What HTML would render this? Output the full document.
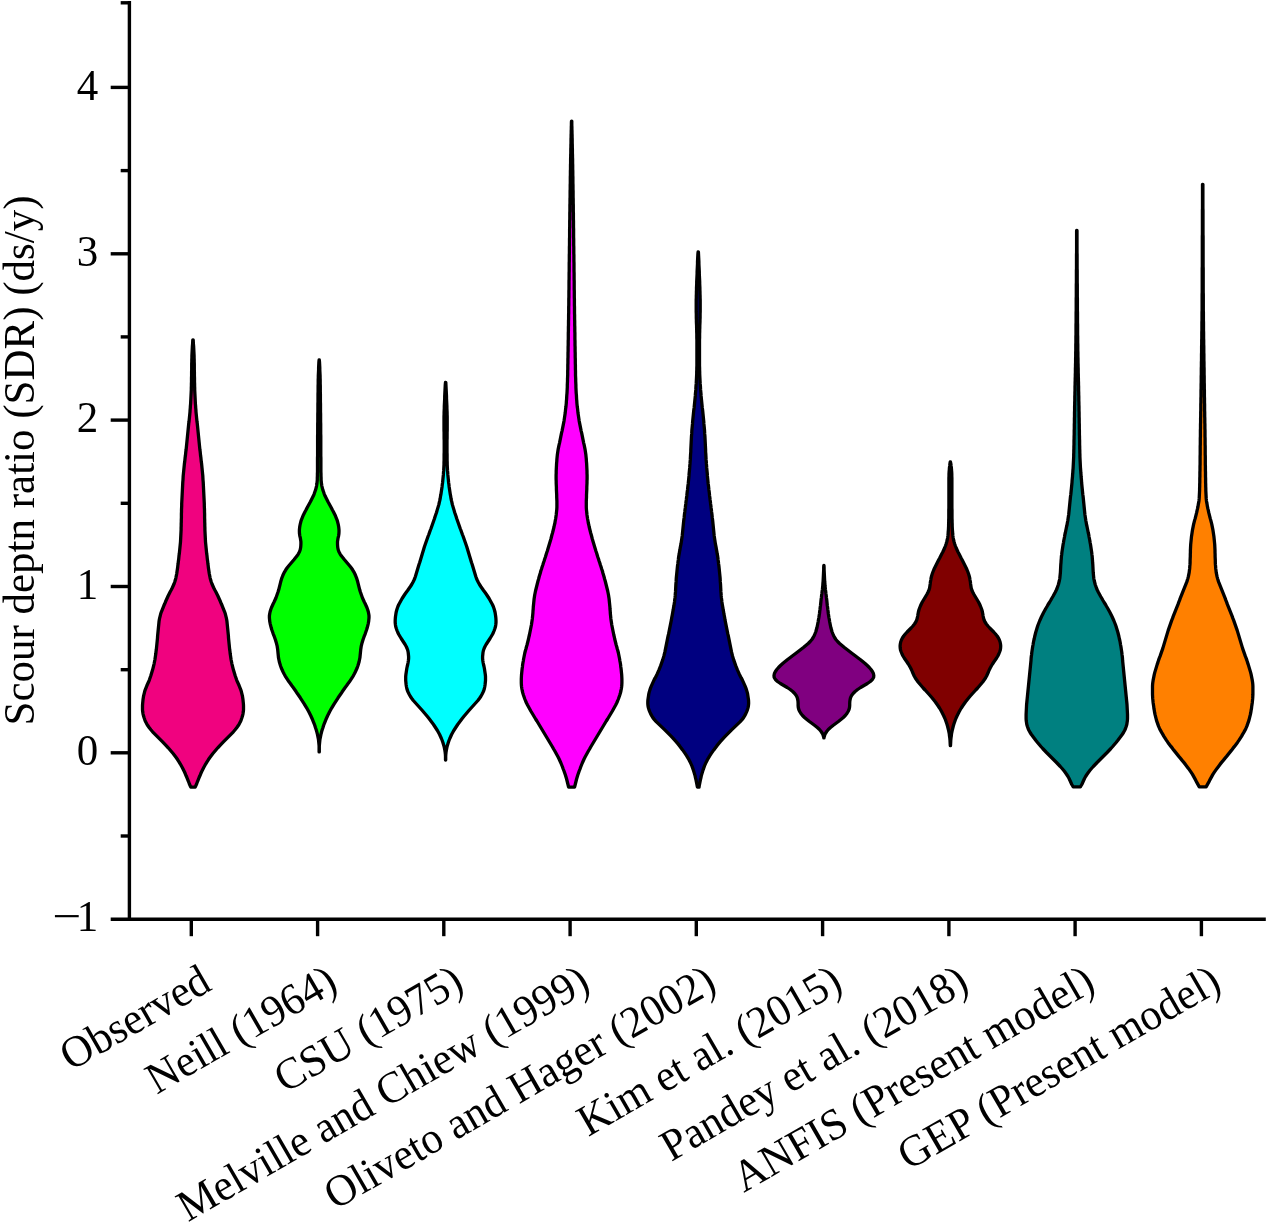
<!DOCTYPE html>
<html><head><meta charset="utf-8"><title>Violin plot</title>
<style>html,body{margin:0;padding:0;background:#fff}body{width:1267px;height:1224px;position:relative;overflow:hidden}</style></head>
<body>
<svg width="1267" height="1224" viewBox="0 0 1267 1224" style="position:absolute;left:0;top:0">
<rect width="1267" height="1224" fill="#fff"/>
<path d="M192.8 339.8 L192.7 341.8 L192.6 343.8 L192.4 345.8 L192.3 347.8 L192.2 349.8 L192.1 351.8 L192.0 353.8 L191.9 355.8 L191.9 357.8 L191.8 359.8 L191.8 361.8 L191.7 363.8 L191.7 365.8 L191.7 367.8 L191.7 369.8 L191.6 371.8 L191.6 373.8 L191.6 375.8 L191.5 377.8 L191.5 379.8 L191.5 381.8 L191.4 383.8 L191.4 385.8 L191.3 387.8 L191.3 389.8 L191.2 391.8 L191.1 393.8 L191.0 395.8 L190.9 397.8 L190.8 399.8 L190.7 401.8 L190.6 403.8 L190.4 405.8 L190.3 407.8 L190.1 409.8 L190.0 411.8 L189.8 413.8 L189.6 415.8 L189.4 417.8 L189.2 419.8 L189.0 421.8 L188.7 423.8 L188.5 425.8 L188.3 427.8 L188.1 429.8 L187.9 431.8 L187.7 433.8 L187.5 435.8 L187.3 437.8 L187.1 439.8 L186.9 441.8 L186.7 443.8 L186.5 445.8 L186.3 447.8 L186.1 449.8 L185.8 451.8 L185.6 453.8 L185.4 455.8 L185.1 457.8 L184.9 459.8 L184.7 461.8 L184.4 463.8 L184.2 465.8 L184.0 467.8 L183.8 469.8 L183.6 471.8 L183.4 473.8 L183.2 475.8 L183.1 477.8 L183.0 479.8 L182.8 481.8 L182.7 483.8 L182.6 485.8 L182.5 487.8 L182.4 489.8 L182.3 491.8 L182.2 493.8 L182.1 495.8 L182.0 497.8 L181.9 499.8 L181.8 501.8 L181.7 503.8 L181.7 505.8 L181.6 507.8 L181.5 509.8 L181.5 511.8 L181.4 513.8 L181.4 515.8 L181.4 517.8 L181.3 519.8 L181.3 521.8 L181.2 523.8 L181.2 525.8 L181.1 527.8 L181.1 529.8 L181.0 531.8 L180.9 533.8 L180.8 535.8 L180.7 537.8 L180.6 539.8 L180.5 541.8 L180.3 543.8 L180.1 545.8 L179.9 547.8 L179.7 549.8 L179.5 551.8 L179.3 553.8 L179.0 555.8 L178.8 557.8 L178.6 559.8 L178.3 561.8 L178.1 563.8 L177.8 565.8 L177.6 567.8 L177.3 569.8 L177.0 571.8 L176.7 573.8 L176.3 575.8 L175.9 577.8 L175.4 579.8 L174.8 581.8 L174.1 583.8 L173.2 585.8 L172.3 587.8 L171.3 589.8 L170.2 591.8 L169.2 593.8 L168.2 595.8 L167.3 597.8 L166.4 599.8 L165.5 601.8 L164.7 603.8 L163.8 605.8 L163.0 607.8 L162.2 609.8 L161.4 611.8 L160.7 613.8 L160.2 615.8 L159.7 617.8 L159.3 619.8 L159.0 621.8 L158.8 623.8 L158.6 625.8 L158.4 627.8 L158.2 629.8 L158.0 631.8 L157.8 633.8 L157.6 635.8 L157.5 637.8 L157.3 639.8 L157.1 641.8 L156.9 643.8 L156.7 645.8 L156.5 647.8 L156.3 649.8 L156.0 651.8 L155.8 653.8 L155.5 655.8 L155.2 657.8 L154.9 659.8 L154.5 661.8 L154.1 663.8 L153.6 665.8 L153.1 667.8 L152.6 669.8 L152.0 671.8 L151.4 673.8 L150.8 675.8 L150.1 677.8 L149.4 679.8 L148.6 681.8 L147.7 683.8 L146.8 685.8 L146.0 687.8 L145.2 689.8 L144.6 691.8 L144.1 693.8 L143.6 695.8 L143.3 697.8 L143.0 699.8 L142.8 701.8 L142.6 703.8 L142.5 705.8 L142.5 707.8 L142.5 709.8 L142.7 711.8 L143.0 713.8 L143.5 715.8 L144.1 717.8 L144.8 719.8 L145.6 721.8 L146.7 723.8 L147.9 725.8 L149.3 727.8 L150.9 729.8 L152.6 731.8 L154.6 733.8 L156.6 735.8 L158.6 737.8 L160.6 739.8 L162.6 741.8 L164.5 743.8 L166.4 745.8 L168.2 747.8 L169.9 749.8 L171.6 751.8 L173.3 753.8 L174.8 755.8 L176.3 757.8 L177.7 759.8 L179.0 761.8 L180.2 763.8 L181.3 765.8 L182.4 767.8 L183.4 769.8 L184.4 771.8 L185.3 773.8 L186.1 775.8 L187.0 777.8 L187.8 779.8 L188.6 781.8 L189.3 783.8 L190.2 785.8 L190.8 787.1 L195.2 787.1 L195.8 785.8 L196.7 783.8 L197.4 781.8 L198.2 779.8 L199.0 777.8 L199.9 775.8 L200.7 773.8 L201.6 771.8 L202.6 769.8 L203.6 767.8 L204.7 765.8 L205.8 763.8 L207.0 761.8 L208.3 759.8 L209.7 757.8 L211.2 755.8 L212.7 753.8 L214.4 751.8 L216.1 749.8 L217.8 747.8 L219.6 745.8 L221.5 743.8 L223.4 741.8 L225.4 739.8 L227.4 737.8 L229.4 735.8 L231.4 733.8 L233.4 731.8 L235.1 729.8 L236.7 727.8 L238.1 725.8 L239.3 723.8 L240.4 721.8 L241.2 719.8 L241.9 717.8 L242.5 715.8 L243.0 713.8 L243.3 711.8 L243.5 709.8 L243.5 707.8 L243.5 705.8 L243.4 703.8 L243.2 701.8 L243.0 699.8 L242.7 697.8 L242.4 695.8 L241.9 693.8 L241.4 691.8 L240.8 689.8 L240.0 687.8 L239.2 685.8 L238.3 683.8 L237.4 681.8 L236.6 679.8 L235.9 677.8 L235.2 675.8 L234.6 673.8 L234.0 671.8 L233.4 669.8 L232.9 667.8 L232.4 665.8 L231.9 663.8 L231.5 661.8 L231.1 659.8 L230.8 657.8 L230.5 655.8 L230.2 653.8 L230.0 651.8 L229.7 649.8 L229.5 647.8 L229.3 645.8 L229.1 643.8 L228.9 641.8 L228.7 639.8 L228.5 637.8 L228.4 635.8 L228.2 633.8 L228.0 631.8 L227.8 629.8 L227.6 627.8 L227.4 625.8 L227.2 623.8 L227.0 621.8 L226.7 619.8 L226.3 617.8 L225.8 615.8 L225.3 613.8 L224.6 611.8 L223.8 609.8 L223.0 607.8 L222.2 605.8 L221.3 603.8 L220.5 601.8 L219.6 599.8 L218.7 597.8 L217.8 595.8 L216.8 593.8 L215.8 591.8 L214.7 589.8 L213.7 587.8 L212.8 585.8 L211.9 583.8 L211.2 581.8 L210.6 579.8 L210.1 577.8 L209.7 575.8 L209.3 573.8 L209.0 571.8 L208.7 569.8 L208.4 567.8 L208.2 565.8 L207.9 563.8 L207.7 561.8 L207.4 559.8 L207.2 557.8 L207.0 555.8 L206.7 553.8 L206.5 551.8 L206.3 549.8 L206.1 547.8 L205.9 545.8 L205.7 543.8 L205.5 541.8 L205.4 539.8 L205.3 537.8 L205.2 535.8 L205.1 533.8 L205.0 531.8 L204.9 529.8 L204.9 527.8 L204.8 525.8 L204.8 523.8 L204.7 521.8 L204.7 519.8 L204.6 517.8 L204.6 515.8 L204.6 513.8 L204.5 511.8 L204.5 509.8 L204.4 507.8 L204.3 505.8 L204.3 503.8 L204.2 501.8 L204.1 499.8 L204.0 497.8 L203.9 495.8 L203.8 493.8 L203.7 491.8 L203.6 489.8 L203.5 487.8 L203.4 485.8 L203.3 483.8 L203.2 481.8 L203.0 479.8 L202.9 477.8 L202.8 475.8 L202.6 473.8 L202.4 471.8 L202.2 469.8 L202.0 467.8 L201.8 465.8 L201.6 463.8 L201.3 461.8 L201.1 459.8 L200.9 457.8 L200.6 455.8 L200.4 453.8 L200.2 451.8 L199.9 449.8 L199.7 447.8 L199.5 445.8 L199.3 443.8 L199.1 441.8 L198.9 439.8 L198.7 437.8 L198.5 435.8 L198.3 433.8 L198.1 431.8 L197.9 429.8 L197.7 427.8 L197.5 425.8 L197.3 423.8 L197.0 421.8 L196.8 419.8 L196.6 417.8 L196.4 415.8 L196.2 413.8 L196.0 411.8 L195.9 409.8 L195.7 407.8 L195.6 405.8 L195.4 403.8 L195.3 401.8 L195.2 399.8 L195.1 397.8 L195.0 395.8 L194.9 393.8 L194.8 391.8 L194.7 389.8 L194.7 387.8 L194.6 385.8 L194.6 383.8 L194.5 381.8 L194.5 379.8 L194.5 377.8 L194.4 375.8 L194.4 373.8 L194.4 371.8 L194.3 369.8 L194.3 367.8 L194.3 365.8 L194.3 363.8 L194.2 361.8 L194.2 359.8 L194.1 357.8 L194.1 355.8 L194.0 353.8 L193.9 351.8 L193.8 349.8 L193.7 347.8 L193.6 345.8 L193.4 343.8 L193.3 341.8 L193.2 339.8 Z" fill="#F0027F" stroke="#000" stroke-width="3.3" stroke-linejoin="round"/>
<path d="M319.1 359.8 L318.9 361.8 L318.8 363.8 L318.7 365.8 L318.6 367.8 L318.6 369.8 L318.5 371.8 L318.4 373.8 L318.3 375.8 L318.3 377.8 L318.2 379.8 L318.2 381.8 L318.2 383.8 L318.1 385.8 L318.1 387.8 L318.1 389.8 L318.1 391.8 L318.0 393.8 L318.0 395.8 L318.0 397.8 L318.0 399.8 L318.0 401.8 L317.9 403.8 L317.9 405.8 L317.9 407.8 L317.9 409.8 L317.9 411.8 L317.8 413.8 L317.8 415.8 L317.8 417.8 L317.8 419.8 L317.8 421.8 L317.7 423.8 L317.7 425.8 L317.7 427.8 L317.7 429.8 L317.7 431.8 L317.7 433.8 L317.6 435.8 L317.6 437.8 L317.6 439.8 L317.6 441.8 L317.6 443.8 L317.6 445.8 L317.6 447.8 L317.6 449.8 L317.6 451.8 L317.6 453.8 L317.6 455.8 L317.5 457.8 L317.5 459.8 L317.5 461.8 L317.5 463.8 L317.5 465.8 L317.5 467.8 L317.5 469.8 L317.5 471.8 L317.4 473.8 L317.4 475.8 L317.3 477.8 L317.3 479.8 L317.1 481.8 L316.9 483.8 L316.6 485.8 L316.1 487.8 L315.6 489.8 L314.9 491.8 L314.2 493.8 L313.4 495.8 L312.4 497.8 L311.4 499.8 L310.4 501.8 L309.3 503.8 L308.2 505.8 L307.1 507.8 L306.1 509.8 L305.0 511.8 L304.0 513.8 L303.0 515.8 L302.2 517.8 L301.4 519.8 L300.8 521.8 L300.3 523.8 L299.9 525.8 L299.6 527.8 L299.4 529.8 L299.4 531.8 L299.5 533.8 L299.8 535.8 L300.3 537.8 L300.6 539.8 L300.9 541.8 L300.9 543.8 L300.8 545.8 L300.6 547.8 L300.2 549.8 L299.5 551.8 L298.4 553.8 L297.1 555.8 L295.5 557.8 L293.9 559.8 L292.2 561.8 L290.5 563.8 L288.8 565.8 L287.2 567.8 L285.8 569.8 L284.6 571.8 L283.6 573.8 L282.7 575.8 L281.9 577.8 L281.3 579.8 L280.7 581.8 L280.2 583.8 L279.7 585.8 L279.2 587.8 L278.7 589.8 L278.1 591.8 L277.4 593.8 L276.7 595.8 L276.0 597.8 L275.1 599.8 L274.2 601.8 L273.2 603.8 L272.3 605.8 L271.4 607.8 L270.7 609.8 L270.1 611.8 L269.7 613.8 L269.4 615.8 L269.4 617.8 L269.6 619.8 L269.8 621.8 L270.2 623.8 L270.7 625.8 L271.2 627.8 L271.8 629.8 L272.5 631.8 L273.2 633.8 L274.0 635.8 L274.7 637.8 L275.4 639.8 L276.0 641.8 L276.6 643.8 L277.1 645.8 L277.4 647.8 L277.7 649.8 L277.9 651.8 L278.1 653.8 L278.3 655.8 L278.5 657.8 L278.9 659.8 L279.3 661.8 L279.9 663.8 L280.5 665.8 L281.2 667.8 L282.1 669.8 L283.0 671.8 L284.0 673.8 L285.1 675.8 L286.4 677.8 L287.7 679.8 L289.0 681.8 L290.5 683.8 L291.9 685.8 L293.4 687.8 L294.8 689.8 L296.2 691.8 L297.5 693.8 L298.9 695.8 L300.3 697.8 L301.6 699.8 L302.9 701.8 L304.2 703.8 L305.4 705.8 L306.6 707.8 L307.7 709.8 L308.8 711.8 L309.8 713.8 L310.8 715.8 L311.7 717.8 L312.6 719.8 L313.4 721.8 L314.2 723.8 L314.9 725.8 L315.5 727.8 L316.2 729.8 L316.8 731.8 L317.3 733.8 L317.7 735.8 L318.1 737.8 L318.5 739.8 L318.7 741.8 L318.9 743.8 L319.1 745.8 L319.1 747.8 L319.1 749.8 L319.1 751.8 L319.1 751.9 L319.3 751.9 L319.3 751.8 L319.3 749.8 L319.3 747.8 L319.3 745.8 L319.5 743.8 L319.7 741.8 L319.9 739.8 L320.3 737.8 L320.7 735.8 L321.1 733.8 L321.6 731.8 L322.2 729.8 L322.9 727.8 L323.5 725.8 L324.2 723.8 L325.0 721.8 L325.8 719.8 L326.7 717.8 L327.6 715.8 L328.6 713.8 L329.6 711.8 L330.7 709.8 L331.8 707.8 L333.0 705.8 L334.2 703.8 L335.5 701.8 L336.8 699.8 L338.1 697.8 L339.5 695.8 L340.9 693.8 L342.2 691.8 L343.6 689.8 L345.0 687.8 L346.5 685.8 L347.9 683.8 L349.4 681.8 L350.7 679.8 L352.0 677.8 L353.3 675.8 L354.4 673.8 L355.4 671.8 L356.3 669.8 L357.2 667.8 L357.9 665.8 L358.5 663.8 L359.1 661.8 L359.5 659.8 L359.9 657.8 L360.1 655.8 L360.3 653.8 L360.5 651.8 L360.7 649.8 L361.0 647.8 L361.3 645.8 L361.8 643.8 L362.4 641.8 L363.0 639.8 L363.7 637.8 L364.4 635.8 L365.2 633.8 L365.9 631.8 L366.6 629.8 L367.2 627.8 L367.7 625.8 L368.2 623.8 L368.6 621.8 L368.8 619.8 L369.0 617.8 L369.0 615.8 L368.7 613.8 L368.3 611.8 L367.7 609.8 L367.0 607.8 L366.1 605.8 L365.2 603.8 L364.2 601.8 L363.3 599.8 L362.4 597.8 L361.7 595.8 L361.0 593.8 L360.3 591.8 L359.7 589.8 L359.2 587.8 L358.7 585.8 L358.2 583.8 L357.7 581.8 L357.1 579.8 L356.5 577.8 L355.7 575.8 L354.8 573.8 L353.8 571.8 L352.6 569.8 L351.2 567.8 L349.6 565.8 L347.9 563.8 L346.2 561.8 L344.5 559.8 L342.9 557.8 L341.3 555.8 L340.0 553.8 L338.9 551.8 L338.2 549.8 L337.8 547.8 L337.6 545.8 L337.5 543.8 L337.5 541.8 L337.8 539.8 L338.1 537.8 L338.6 535.8 L338.9 533.8 L339.0 531.8 L339.0 529.8 L338.8 527.8 L338.5 525.8 L338.1 523.8 L337.6 521.8 L337.0 519.8 L336.2 517.8 L335.4 515.8 L334.4 513.8 L333.4 511.8 L332.3 509.8 L331.3 507.8 L330.2 505.8 L329.1 503.8 L328.0 501.8 L327.0 499.8 L326.0 497.8 L325.0 495.8 L324.2 493.8 L323.5 491.8 L322.8 489.8 L322.3 487.8 L321.8 485.8 L321.5 483.8 L321.3 481.8 L321.1 479.8 L321.1 477.8 L321.0 475.8 L321.0 473.8 L320.9 471.8 L320.9 469.8 L320.9 467.8 L320.9 465.8 L320.9 463.8 L320.9 461.8 L320.9 459.8 L320.9 457.8 L320.8 455.8 L320.8 453.8 L320.8 451.8 L320.8 449.8 L320.8 447.8 L320.8 445.8 L320.8 443.8 L320.8 441.8 L320.8 439.8 L320.8 437.8 L320.8 435.8 L320.7 433.8 L320.7 431.8 L320.7 429.8 L320.7 427.8 L320.7 425.8 L320.7 423.8 L320.6 421.8 L320.6 419.8 L320.6 417.8 L320.6 415.8 L320.6 413.8 L320.5 411.8 L320.5 409.8 L320.5 407.8 L320.5 405.8 L320.5 403.8 L320.4 401.8 L320.4 399.8 L320.4 397.8 L320.4 395.8 L320.4 393.8 L320.3 391.8 L320.3 389.8 L320.3 387.8 L320.3 385.8 L320.2 383.8 L320.2 381.8 L320.2 379.8 L320.1 377.8 L320.1 375.8 L320.0 373.8 L319.9 371.8 L319.8 369.8 L319.8 367.8 L319.7 365.8 L319.6 363.8 L319.5 361.8 L319.3 359.8 Z" fill="#00FF00" stroke="#000" stroke-width="3.3" stroke-linejoin="round"/>
<path d="M445.5 382.4 L445.3 384.4 L445.2 386.4 L445.1 388.4 L445.0 390.4 L444.9 392.4 L444.8 394.4 L444.7 396.4 L444.7 398.4 L444.6 400.4 L444.5 402.4 L444.4 404.4 L444.3 406.4 L444.3 408.4 L444.2 410.4 L444.1 412.4 L444.1 414.4 L444.0 416.4 L444.0 418.4 L444.0 420.4 L444.0 422.4 L444.0 424.4 L444.0 426.4 L444.0 428.4 L444.0 430.4 L444.1 432.4 L444.1 434.4 L444.1 436.4 L444.1 438.4 L444.2 440.4 L444.2 442.4 L444.2 444.4 L444.2 446.4 L444.2 448.4 L444.2 450.4 L444.2 452.4 L444.1 454.4 L444.1 456.4 L444.1 458.4 L444.1 460.4 L444.0 462.4 L444.0 464.4 L443.9 466.4 L443.8 468.4 L443.7 470.4 L443.5 472.4 L443.4 474.4 L443.2 476.4 L443.0 478.4 L442.8 480.4 L442.6 482.4 L442.3 484.4 L442.1 486.4 L441.8 488.4 L441.5 490.4 L441.2 492.4 L440.9 494.4 L440.5 496.4 L440.2 498.4 L439.8 500.4 L439.3 502.4 L438.9 504.4 L438.3 506.4 L437.7 508.4 L437.1 510.4 L436.5 512.5 L435.8 514.5 L435.1 516.5 L434.5 518.5 L433.8 520.5 L433.1 522.5 L432.4 524.5 L431.7 526.5 L431.0 528.5 L430.2 530.5 L429.5 532.5 L428.8 534.5 L428.0 536.5 L427.3 538.5 L426.6 540.5 L425.9 542.5 L425.2 544.5 L424.5 546.5 L423.9 548.5 L423.3 550.5 L422.7 552.5 L422.1 554.5 L421.5 556.5 L420.9 558.5 L420.3 560.5 L419.7 562.5 L419.0 564.5 L418.4 566.5 L417.8 568.5 L417.2 570.5 L416.6 572.5 L416.0 574.5 L415.4 576.5 L414.7 578.5 L413.8 580.5 L412.8 582.5 L411.7 584.5 L410.4 586.5 L409.0 588.5 L407.6 590.5 L406.1 592.5 L404.7 594.5 L403.4 596.5 L402.1 598.5 L401.0 600.5 L399.9 602.5 L398.8 604.5 L397.9 606.5 L397.2 608.5 L396.6 610.5 L396.1 612.5 L395.8 614.5 L395.5 616.5 L395.3 618.5 L395.2 620.5 L395.2 622.5 L395.4 624.5 L395.7 626.5 L396.3 628.5 L397.0 630.5 L397.8 632.5 L398.8 634.5 L400.0 636.5 L401.2 638.5 L402.5 640.5 L403.8 642.5 L405.1 644.5 L406.2 646.5 L407.1 648.5 L407.8 650.5 L408.2 652.5 L408.4 654.5 L408.6 656.5 L408.6 658.5 L408.4 660.5 L408.1 662.5 L407.7 664.5 L407.2 666.5 L406.8 668.5 L406.5 670.5 L406.2 672.5 L405.9 674.5 L405.7 676.5 L405.7 678.5 L405.7 680.5 L405.9 682.5 L406.1 684.5 L406.4 686.5 L406.8 688.5 L407.4 690.5 L408.3 692.5 L409.3 694.5 L410.4 696.5 L411.8 698.5 L413.3 700.5 L415.1 702.5 L416.9 704.5 L418.7 706.5 L420.5 708.5 L422.3 710.5 L424.0 712.5 L425.7 714.5 L427.4 716.5 L429.0 718.5 L430.5 720.5 L432.0 722.5 L433.5 724.5 L434.8 726.5 L436.1 728.5 L437.4 730.5 L438.5 732.5 L439.6 734.5 L440.5 736.5 L441.4 738.5 L442.2 740.5 L442.9 742.5 L443.5 744.5 L444.1 746.5 L444.5 748.5 L444.9 750.5 L445.2 752.5 L445.4 754.5 L445.5 756.5 L445.5 758.5 L445.5 760.0 L445.7 760.0 L445.7 758.5 L445.7 756.5 L445.8 754.5 L446.0 752.5 L446.3 750.5 L446.7 748.5 L447.1 746.5 L447.7 744.5 L448.3 742.5 L449.0 740.5 L449.8 738.5 L450.7 736.5 L451.6 734.5 L452.7 732.5 L453.8 730.5 L455.1 728.5 L456.4 726.5 L457.7 724.5 L459.2 722.5 L460.7 720.5 L462.2 718.5 L463.8 716.5 L465.5 714.5 L467.2 712.5 L468.9 710.5 L470.7 708.5 L472.5 706.5 L474.3 704.5 L476.1 702.5 L477.9 700.5 L479.4 698.5 L480.8 696.5 L481.9 694.5 L482.9 692.5 L483.8 690.5 L484.4 688.5 L484.8 686.5 L485.1 684.5 L485.3 682.5 L485.5 680.5 L485.5 678.5 L485.5 676.5 L485.3 674.5 L485.0 672.5 L484.7 670.5 L484.4 668.5 L484.0 666.5 L483.5 664.5 L483.1 662.5 L482.8 660.5 L482.6 658.5 L482.6 656.5 L482.8 654.5 L483.0 652.5 L483.4 650.5 L484.1 648.5 L485.0 646.5 L486.1 644.5 L487.4 642.5 L488.7 640.5 L490.0 638.5 L491.2 636.5 L492.4 634.5 L493.4 632.5 L494.2 630.5 L494.9 628.5 L495.5 626.5 L495.8 624.5 L496.0 622.5 L496.0 620.5 L495.9 618.5 L495.7 616.5 L495.4 614.5 L495.1 612.5 L494.6 610.5 L494.0 608.5 L493.3 606.5 L492.4 604.5 L491.3 602.5 L490.2 600.5 L489.1 598.5 L487.8 596.5 L486.5 594.5 L485.1 592.5 L483.6 590.5 L482.2 588.5 L480.8 586.5 L479.5 584.5 L478.4 582.5 L477.4 580.5 L476.5 578.5 L475.8 576.5 L475.2 574.5 L474.6 572.5 L474.0 570.5 L473.4 568.5 L472.8 566.5 L472.2 564.5 L471.5 562.5 L470.9 560.5 L470.3 558.5 L469.7 556.5 L469.1 554.5 L468.5 552.5 L467.9 550.5 L467.3 548.5 L466.7 546.5 L466.0 544.5 L465.3 542.5 L464.6 540.5 L463.9 538.5 L463.2 536.5 L462.4 534.5 L461.7 532.5 L461.0 530.5 L460.2 528.5 L459.5 526.5 L458.8 524.5 L458.1 522.5 L457.4 520.5 L456.7 518.5 L456.1 516.5 L455.4 514.5 L454.7 512.5 L454.1 510.4 L453.5 508.4 L452.9 506.4 L452.3 504.4 L451.9 502.4 L451.4 500.4 L451.0 498.4 L450.7 496.4 L450.3 494.4 L450.0 492.4 L449.7 490.4 L449.4 488.4 L449.1 486.4 L448.9 484.4 L448.6 482.4 L448.4 480.4 L448.2 478.4 L448.0 476.4 L447.8 474.4 L447.7 472.4 L447.5 470.4 L447.4 468.4 L447.3 466.4 L447.2 464.4 L447.2 462.4 L447.1 460.4 L447.1 458.4 L447.1 456.4 L447.1 454.4 L447.0 452.4 L447.0 450.4 L447.0 448.4 L447.0 446.4 L447.0 444.4 L447.0 442.4 L447.0 440.4 L447.1 438.4 L447.1 436.4 L447.1 434.4 L447.1 432.4 L447.2 430.4 L447.2 428.4 L447.2 426.4 L447.2 424.4 L447.2 422.4 L447.2 420.4 L447.2 418.4 L447.2 416.4 L447.1 414.4 L447.1 412.4 L447.0 410.4 L446.9 408.4 L446.9 406.4 L446.8 404.4 L446.7 402.4 L446.6 400.4 L446.5 398.4 L446.5 396.4 L446.4 394.4 L446.3 392.4 L446.2 390.4 L446.1 388.4 L446.0 386.4 L445.9 384.4 L445.8 382.4 Z" fill="#00FFFF" stroke="#000" stroke-width="3.3" stroke-linejoin="round"/>
<path d="M571.5 121.1 L571.4 123.1 L571.4 125.1 L571.3 127.1 L571.3 129.1 L571.2 131.1 L571.2 133.1 L571.1 135.1 L571.1 137.1 L571.0 139.1 L571.0 141.1 L571.0 143.1 L570.9 145.1 L570.9 147.1 L570.8 149.1 L570.8 151.1 L570.8 153.1 L570.7 155.1 L570.7 157.1 L570.6 159.1 L570.6 161.1 L570.6 163.1 L570.5 165.1 L570.5 167.1 L570.5 169.1 L570.4 171.1 L570.4 173.1 L570.4 175.1 L570.3 177.1 L570.3 179.1 L570.3 181.1 L570.3 183.1 L570.2 185.1 L570.2 187.1 L570.2 189.1 L570.1 191.1 L570.1 193.1 L570.1 195.1 L570.1 197.1 L570.0 199.1 L570.0 201.1 L570.0 203.1 L569.9 205.1 L569.9 207.1 L569.9 209.1 L569.9 211.1 L569.8 213.1 L569.8 215.1 L569.8 217.1 L569.8 219.1 L569.7 221.1 L569.7 223.1 L569.7 225.1 L569.7 227.1 L569.6 229.1 L569.6 231.1 L569.6 233.1 L569.6 235.1 L569.6 237.1 L569.5 239.1 L569.5 241.1 L569.5 243.1 L569.5 245.1 L569.4 247.1 L569.4 249.1 L569.4 251.1 L569.4 253.1 L569.3 255.1 L569.3 257.1 L569.3 259.1 L569.3 261.1 L569.2 263.1 L569.2 265.1 L569.2 267.1 L569.2 269.1 L569.2 271.1 L569.1 273.1 L569.1 275.1 L569.1 277.1 L569.1 279.1 L569.0 281.1 L569.0 283.1 L569.0 285.1 L569.0 287.1 L569.0 289.1 L568.9 291.1 L568.9 293.1 L568.9 295.1 L568.9 297.1 L568.8 299.1 L568.8 301.1 L568.8 303.1 L568.8 305.1 L568.7 307.1 L568.7 309.1 L568.7 311.1 L568.7 313.1 L568.6 315.1 L568.6 317.1 L568.6 319.1 L568.5 321.1 L568.5 323.1 L568.5 325.1 L568.4 327.1 L568.4 329.1 L568.4 331.1 L568.3 333.1 L568.3 335.1 L568.3 337.1 L568.3 339.1 L568.2 341.1 L568.2 343.1 L568.2 345.1 L568.1 347.1 L568.1 349.1 L568.1 351.1 L568.0 353.1 L568.0 355.1 L568.0 357.1 L567.9 359.1 L567.9 361.1 L567.9 363.1 L567.8 365.1 L567.8 367.1 L567.8 369.1 L567.7 371.1 L567.7 373.1 L567.7 375.1 L567.6 377.1 L567.5 379.1 L567.5 381.1 L567.4 383.1 L567.3 385.1 L567.3 387.1 L567.2 389.1 L567.1 391.1 L567.0 393.1 L566.8 395.1 L566.7 397.1 L566.6 399.1 L566.4 401.1 L566.3 403.1 L566.1 405.1 L565.9 407.1 L565.6 409.1 L565.4 411.1 L565.2 413.1 L564.9 415.1 L564.6 417.1 L564.3 419.1 L564.0 421.1 L563.6 423.1 L563.2 425.1 L562.8 427.1 L562.4 429.1 L562.0 431.1 L561.5 433.1 L561.1 435.1 L560.7 437.1 L560.3 439.1 L559.9 441.1 L559.5 443.1 L559.0 445.1 L558.6 447.1 L558.2 449.1 L557.9 451.1 L557.6 453.1 L557.3 455.1 L557.1 457.1 L556.9 459.1 L556.8 461.1 L556.6 463.1 L556.5 465.1 L556.4 467.1 L556.3 469.1 L556.2 471.1 L556.2 473.1 L556.1 475.1 L556.1 477.1 L556.1 479.1 L556.2 481.1 L556.2 483.1 L556.3 485.1 L556.4 487.1 L556.4 489.1 L556.5 491.1 L556.6 493.1 L556.7 495.1 L556.7 497.1 L556.8 499.1 L556.9 501.1 L556.9 503.1 L556.9 505.1 L556.9 507.1 L556.8 509.1 L556.6 511.1 L556.4 513.0 L556.2 515.0 L555.9 517.0 L555.6 519.0 L555.2 521.0 L554.9 523.0 L554.4 525.0 L554.0 527.0 L553.5 529.0 L553.0 531.0 L552.5 533.0 L551.9 535.0 L551.4 537.0 L550.9 539.0 L550.3 541.0 L549.7 543.0 L549.1 545.0 L548.5 547.0 L547.9 549.0 L547.3 551.0 L546.6 553.0 L546.0 555.0 L545.4 557.0 L544.7 559.0 L544.1 561.0 L543.4 563.0 L542.8 565.0 L542.1 567.0 L541.5 569.0 L540.8 571.0 L540.3 573.0 L539.7 575.0 L539.1 577.0 L538.6 579.0 L538.0 581.0 L537.5 583.0 L537.0 585.0 L536.5 587.0 L536.0 589.0 L535.5 591.0 L535.1 593.0 L534.7 595.0 L534.4 597.0 L534.1 599.0 L533.9 601.0 L533.7 603.0 L533.5 605.0 L533.3 607.0 L533.2 609.0 L533.0 611.0 L532.9 613.0 L532.7 615.0 L532.5 617.0 L532.3 619.0 L532.0 621.0 L531.7 623.0 L531.4 625.0 L531.0 627.0 L530.6 629.0 L530.2 631.0 L529.8 633.0 L529.4 635.0 L528.9 637.0 L528.5 639.0 L528.0 641.0 L527.5 643.0 L527.0 645.0 L526.4 647.0 L525.9 649.0 L525.3 651.0 L524.8 653.0 L524.4 655.0 L524.0 657.0 L523.6 659.0 L523.3 661.0 L522.9 663.0 L522.6 665.0 L522.4 667.0 L522.1 669.0 L521.9 671.0 L521.7 673.0 L521.5 675.0 L521.4 677.0 L521.3 679.0 L521.3 681.0 L521.3 683.0 L521.4 685.0 L521.6 687.0 L521.9 689.0 L522.3 691.0 L522.8 693.0 L523.4 695.0 L524.1 697.0 L524.8 699.0 L525.6 701.0 L526.5 703.0 L527.5 705.0 L528.6 707.0 L529.7 709.0 L530.8 711.0 L532.0 713.0 L533.2 715.0 L534.4 717.0 L535.6 719.0 L536.9 721.0 L538.1 723.0 L539.3 725.0 L540.5 727.0 L541.7 729.0 L542.9 731.0 L544.1 733.0 L545.3 735.0 L546.5 737.0 L547.7 739.0 L548.9 741.0 L550.1 743.0 L551.3 745.0 L552.5 747.0 L553.6 749.0 L554.8 751.0 L555.9 753.0 L557.0 755.0 L558.1 757.0 L559.1 759.0 L560.0 761.0 L560.9 763.0 L561.7 765.0 L562.5 767.0 L563.2 769.0 L564.0 771.0 L564.7 773.0 L565.4 775.0 L566.0 777.0 L566.6 779.0 L567.1 781.0 L567.6 783.0 L568.1 785.0 L568.6 787.0 L568.6 787.1 L574.6 787.1 L574.6 787.0 L575.1 785.0 L575.6 783.0 L576.1 781.0 L576.6 779.0 L577.2 777.0 L577.8 775.0 L578.5 773.0 L579.2 771.0 L580.0 769.0 L580.7 767.0 L581.5 765.0 L582.3 763.0 L583.2 761.0 L584.1 759.0 L585.1 757.0 L586.2 755.0 L587.3 753.0 L588.4 751.0 L589.6 749.0 L590.7 747.0 L591.9 745.0 L593.1 743.0 L594.3 741.0 L595.5 739.0 L596.7 737.0 L597.9 735.0 L599.1 733.0 L600.3 731.0 L601.5 729.0 L602.7 727.0 L603.9 725.0 L605.1 723.0 L606.3 721.0 L607.6 719.0 L608.8 717.0 L610.0 715.0 L611.2 713.0 L612.4 711.0 L613.5 709.0 L614.6 707.0 L615.7 705.0 L616.7 703.0 L617.6 701.0 L618.4 699.0 L619.1 697.0 L619.8 695.0 L620.4 693.0 L620.9 691.0 L621.3 689.0 L621.6 687.0 L621.8 685.0 L621.9 683.0 L621.9 681.0 L621.9 679.0 L621.8 677.0 L621.7 675.0 L621.5 673.0 L621.3 671.0 L621.1 669.0 L620.8 667.0 L620.6 665.0 L620.3 663.0 L619.9 661.0 L619.6 659.0 L619.2 657.0 L618.8 655.0 L618.4 653.0 L617.9 651.0 L617.3 649.0 L616.8 647.0 L616.2 645.0 L615.7 643.0 L615.2 641.0 L614.7 639.0 L614.3 637.0 L613.8 635.0 L613.4 633.0 L613.0 631.0 L612.6 629.0 L612.2 627.0 L611.8 625.0 L611.5 623.0 L611.2 621.0 L610.9 619.0 L610.7 617.0 L610.5 615.0 L610.3 613.0 L610.2 611.0 L610.0 609.0 L609.9 607.0 L609.7 605.0 L609.5 603.0 L609.3 601.0 L609.1 599.0 L608.8 597.0 L608.5 595.0 L608.1 593.0 L607.7 591.0 L607.2 589.0 L606.7 587.0 L606.2 585.0 L605.7 583.0 L605.2 581.0 L604.6 579.0 L604.1 577.0 L603.5 575.0 L602.9 573.0 L602.4 571.0 L601.7 569.0 L601.1 567.0 L600.4 565.0 L599.8 563.0 L599.1 561.0 L598.5 559.0 L597.8 557.0 L597.2 555.0 L596.6 553.0 L595.9 551.0 L595.3 549.0 L594.7 547.0 L594.1 545.0 L593.5 543.0 L592.9 541.0 L592.3 539.0 L591.8 537.0 L591.3 535.0 L590.7 533.0 L590.2 531.0 L589.7 529.0 L589.2 527.0 L588.8 525.0 L588.3 523.0 L588.0 521.0 L587.6 519.0 L587.3 517.0 L587.0 515.0 L586.8 513.0 L586.6 511.1 L586.4 509.1 L586.3 507.1 L586.3 505.1 L586.3 503.1 L586.3 501.1 L586.4 499.1 L586.5 497.1 L586.5 495.1 L586.6 493.1 L586.7 491.1 L586.8 489.1 L586.8 487.1 L586.9 485.1 L587.0 483.1 L587.0 481.1 L587.1 479.1 L587.1 477.1 L587.1 475.1 L587.0 473.1 L587.0 471.1 L586.9 469.1 L586.8 467.1 L586.7 465.1 L586.6 463.1 L586.4 461.1 L586.3 459.1 L586.1 457.1 L585.9 455.1 L585.6 453.1 L585.3 451.1 L585.0 449.1 L584.6 447.1 L584.2 445.1 L583.7 443.1 L583.3 441.1 L582.9 439.1 L582.5 437.1 L582.1 435.1 L581.7 433.1 L581.2 431.1 L580.8 429.1 L580.4 427.1 L580.0 425.1 L579.6 423.1 L579.2 421.1 L578.9 419.1 L578.6 417.1 L578.3 415.1 L578.0 413.1 L577.8 411.1 L577.6 409.1 L577.3 407.1 L577.1 405.1 L576.9 403.1 L576.8 401.1 L576.6 399.1 L576.5 397.1 L576.4 395.1 L576.2 393.1 L576.1 391.1 L576.0 389.1 L575.9 387.1 L575.9 385.1 L575.8 383.1 L575.7 381.1 L575.7 379.1 L575.6 377.1 L575.5 375.1 L575.5 373.1 L575.5 371.1 L575.4 369.1 L575.4 367.1 L575.4 365.1 L575.3 363.1 L575.3 361.1 L575.3 359.1 L575.2 357.1 L575.2 355.1 L575.2 353.1 L575.1 351.1 L575.1 349.1 L575.1 347.1 L575.0 345.1 L575.0 343.1 L575.0 341.1 L574.9 339.1 L574.9 337.1 L574.9 335.1 L574.9 333.1 L574.8 331.1 L574.8 329.1 L574.8 327.1 L574.7 325.1 L574.7 323.1 L574.7 321.1 L574.6 319.1 L574.6 317.1 L574.6 315.1 L574.5 313.1 L574.5 311.1 L574.5 309.1 L574.5 307.1 L574.4 305.1 L574.4 303.1 L574.4 301.1 L574.4 299.1 L574.3 297.1 L574.3 295.1 L574.3 293.1 L574.3 291.1 L574.2 289.1 L574.2 287.1 L574.2 285.1 L574.2 283.1 L574.2 281.1 L574.1 279.1 L574.1 277.1 L574.1 275.1 L574.1 273.1 L574.0 271.1 L574.0 269.1 L574.0 267.1 L574.0 265.1 L574.0 263.1 L573.9 261.1 L573.9 259.1 L573.9 257.1 L573.9 255.1 L573.8 253.1 L573.8 251.1 L573.8 249.1 L573.8 247.1 L573.7 245.1 L573.7 243.1 L573.7 241.1 L573.7 239.1 L573.6 237.1 L573.6 235.1 L573.6 233.1 L573.6 231.1 L573.6 229.1 L573.5 227.1 L573.5 225.1 L573.5 223.1 L573.5 221.1 L573.4 219.1 L573.4 217.1 L573.4 215.1 L573.4 213.1 L573.3 211.1 L573.3 209.1 L573.3 207.1 L573.3 205.1 L573.2 203.1 L573.2 201.1 L573.2 199.1 L573.1 197.1 L573.1 195.1 L573.1 193.1 L573.1 191.1 L573.0 189.1 L573.0 187.1 L573.0 185.1 L572.9 183.1 L572.9 181.1 L572.9 179.1 L572.9 177.1 L572.8 175.1 L572.8 173.1 L572.8 171.1 L572.7 169.1 L572.7 167.1 L572.7 165.1 L572.6 163.1 L572.6 161.1 L572.6 159.1 L572.5 157.1 L572.5 155.1 L572.4 153.1 L572.4 151.1 L572.4 149.1 L572.3 147.1 L572.3 145.1 L572.2 143.1 L572.2 141.1 L572.2 139.1 L572.1 137.1 L572.1 135.1 L572.0 133.1 L572.0 131.1 L571.9 129.1 L571.9 127.1 L571.8 125.1 L571.8 123.1 L571.8 121.1 Z" fill="#FF00FF" stroke="#000" stroke-width="3.3" stroke-linejoin="round"/>
<path d="M698.1 251.8 L697.9 253.8 L697.8 255.8 L697.7 257.9 L697.6 259.9 L697.5 261.9 L697.5 263.9 L697.4 265.9 L697.3 267.9 L697.2 269.9 L697.1 271.9 L697.1 273.9 L697.0 275.9 L696.9 277.9 L696.8 279.9 L696.7 281.9 L696.7 283.9 L696.6 285.9 L696.5 287.9 L696.5 289.9 L696.4 291.9 L696.4 293.9 L696.3 295.9 L696.3 297.9 L696.2 299.9 L696.2 301.9 L696.2 303.9 L696.2 305.9 L696.2 307.9 L696.2 309.9 L696.2 311.9 L696.3 313.9 L696.3 315.9 L696.3 317.9 L696.4 319.9 L696.4 321.9 L696.5 323.9 L696.6 325.9 L696.6 327.9 L696.7 329.9 L696.7 331.9 L696.8 333.9 L696.8 335.9 L696.8 337.9 L696.9 339.9 L696.9 341.9 L696.9 343.9 L696.9 345.9 L696.9 347.9 L696.9 349.9 L696.9 351.9 L696.9 353.9 L696.9 355.9 L696.9 357.9 L696.9 359.9 L696.9 361.9 L696.9 363.9 L696.9 365.9 L696.8 367.9 L696.8 369.9 L696.7 371.9 L696.7 373.9 L696.6 375.9 L696.5 377.9 L696.4 379.9 L696.3 381.9 L696.2 383.9 L696.0 385.9 L695.9 387.9 L695.8 389.9 L695.6 391.9 L695.4 393.9 L695.3 395.9 L695.1 397.9 L694.9 399.9 L694.7 401.9 L694.5 403.9 L694.3 405.9 L694.1 407.9 L693.8 409.9 L693.6 411.9 L693.4 413.9 L693.2 415.9 L693.0 417.9 L692.8 419.9 L692.6 421.9 L692.5 423.9 L692.3 425.9 L692.1 427.9 L691.9 429.9 L691.8 431.9 L691.7 433.9 L691.5 435.9 L691.4 437.9 L691.3 439.9 L691.2 441.9 L691.1 443.9 L691.0 445.9 L690.9 447.9 L690.8 449.9 L690.8 451.9 L690.6 453.9 L690.5 455.9 L690.4 457.9 L690.3 459.9 L690.1 461.9 L690.0 463.9 L689.8 465.9 L689.7 467.9 L689.5 469.9 L689.3 471.9 L689.1 473.9 L689.0 475.9 L688.8 477.9 L688.6 479.9 L688.4 481.9 L688.2 483.9 L687.9 485.9 L687.7 487.9 L687.5 489.9 L687.2 491.9 L687.0 493.9 L686.8 495.9 L686.5 497.9 L686.3 499.9 L686.0 501.9 L685.8 503.9 L685.5 505.9 L685.3 507.9 L685.0 509.9 L684.8 511.9 L684.5 513.9 L684.3 515.9 L684.1 517.9 L683.8 519.9 L683.6 521.9 L683.4 523.9 L683.2 525.9 L683.0 527.9 L682.8 529.9 L682.6 531.9 L682.4 533.9 L682.2 535.9 L681.9 537.9 L681.6 539.9 L681.3 541.9 L681.0 543.9 L680.6 545.9 L680.2 547.9 L679.9 549.9 L679.5 551.9 L679.2 553.9 L678.8 555.9 L678.5 557.9 L678.3 559.9 L678.0 561.9 L677.8 563.9 L677.5 565.9 L677.3 567.9 L677.1 569.9 L676.9 571.9 L676.7 573.9 L676.5 575.9 L676.3 577.9 L676.2 579.9 L676.1 581.9 L675.9 583.9 L675.8 585.9 L675.7 587.9 L675.6 589.9 L675.5 591.9 L675.3 593.9 L675.2 595.9 L675.0 597.9 L674.7 599.9 L674.5 601.9 L674.2 603.9 L673.9 605.9 L673.5 607.9 L673.2 609.9 L672.8 611.9 L672.5 613.9 L672.1 615.9 L671.7 617.9 L671.4 619.9 L671.0 621.9 L670.6 623.9 L670.2 625.9 L669.8 627.9 L669.4 629.9 L669.0 631.9 L668.6 633.9 L668.1 635.9 L667.7 637.9 L667.3 639.9 L666.9 641.9 L666.5 643.9 L666.1 645.9 L665.7 647.9 L665.3 649.9 L664.9 651.9 L664.4 653.9 L663.9 655.9 L663.3 657.9 L662.7 659.9 L662.0 661.9 L661.3 663.9 L660.6 665.9 L659.8 667.9 L659.0 669.9 L658.1 671.9 L657.2 673.9 L656.2 675.9 L655.2 677.9 L654.1 679.9 L653.2 681.9 L652.3 683.9 L651.4 685.9 L650.6 687.9 L649.9 689.9 L649.3 691.9 L648.8 693.9 L648.5 695.9 L648.2 697.9 L647.9 699.9 L647.8 701.9 L647.8 703.9 L648.0 705.9 L648.4 707.9 L649.0 709.9 L649.8 711.9 L650.7 713.9 L651.8 715.9 L653.0 717.9 L654.6 719.9 L656.4 721.9 L658.5 723.9 L660.6 725.9 L662.7 727.9 L664.8 729.9 L666.8 731.9 L668.8 733.9 L670.8 735.9 L672.7 737.9 L674.5 739.9 L676.3 741.9 L678.0 743.9 L679.6 745.9 L681.1 747.9 L682.6 749.9 L684.0 751.9 L685.4 753.9 L686.7 755.9 L687.9 757.9 L689.1 759.9 L690.1 761.9 L691.0 763.9 L691.9 765.9 L692.6 767.9 L693.3 769.9 L693.9 771.9 L694.5 773.9 L695.1 775.9 L695.5 777.9 L696.0 779.9 L696.4 781.9 L696.8 783.9 L697.2 785.9 L697.4 787.1 L699.1 787.1 L699.2 785.9 L699.6 783.9 L700.0 781.9 L700.4 779.9 L700.9 777.9 L701.3 775.9 L701.9 773.9 L702.5 771.9 L703.1 769.9 L703.8 767.9 L704.5 765.9 L705.4 763.9 L706.3 761.9 L707.3 759.9 L708.5 757.9 L709.7 755.9 L711.0 753.9 L712.4 751.9 L713.8 749.9 L715.3 747.9 L716.8 745.9 L718.4 743.9 L720.1 741.9 L721.9 739.9 L723.7 737.9 L725.6 735.9 L727.6 733.9 L729.6 731.9 L731.6 729.9 L733.7 727.9 L735.8 725.9 L737.9 723.9 L740.0 721.9 L741.8 719.9 L743.4 717.9 L744.6 715.9 L745.7 713.9 L746.6 711.9 L747.4 709.9 L748.0 707.9 L748.4 705.9 L748.6 703.9 L748.6 701.9 L748.5 699.9 L748.2 697.9 L747.9 695.9 L747.6 693.9 L747.1 691.9 L746.5 689.9 L745.8 687.9 L745.0 685.9 L744.1 683.9 L743.2 681.9 L742.3 679.9 L741.2 677.9 L740.2 675.9 L739.2 673.9 L738.3 671.9 L737.4 669.9 L736.6 667.9 L735.8 665.9 L735.1 663.9 L734.4 661.9 L733.7 659.9 L733.1 657.9 L732.5 655.9 L732.0 653.9 L731.5 651.9 L731.1 649.9 L730.7 647.9 L730.3 645.9 L729.9 643.9 L729.5 641.9 L729.1 639.9 L728.7 637.9 L728.3 635.9 L727.8 633.9 L727.4 631.9 L727.0 629.9 L726.6 627.9 L726.2 625.9 L725.8 623.9 L725.4 621.9 L725.0 619.9 L724.7 617.9 L724.3 615.9 L723.9 613.9 L723.6 611.9 L723.2 609.9 L722.9 607.9 L722.5 605.9 L722.2 603.9 L721.9 601.9 L721.7 599.9 L721.4 597.9 L721.2 595.9 L721.1 593.9 L720.9 591.9 L720.8 589.9 L720.7 587.9 L720.6 585.9 L720.5 583.9 L720.3 581.9 L720.2 579.9 L720.1 577.9 L719.9 575.9 L719.7 573.9 L719.5 571.9 L719.3 569.9 L719.1 567.9 L718.9 565.9 L718.6 563.9 L718.4 561.9 L718.1 559.9 L717.9 557.9 L717.6 555.9 L717.2 553.9 L716.9 551.9 L716.5 549.9 L716.2 547.9 L715.8 545.9 L715.4 543.9 L715.1 541.9 L714.8 539.9 L714.5 537.9 L714.2 535.9 L714.0 533.9 L713.8 531.9 L713.6 529.9 L713.4 527.9 L713.2 525.9 L713.0 523.9 L712.8 521.9 L712.6 519.9 L712.3 517.9 L712.1 515.9 L711.9 513.9 L711.6 511.9 L711.4 509.9 L711.1 507.9 L710.9 505.9 L710.6 503.9 L710.4 501.9 L710.1 499.9 L709.9 497.9 L709.6 495.9 L709.4 493.9 L709.2 491.9 L708.9 489.9 L708.7 487.9 L708.5 485.9 L708.2 483.9 L708.0 481.9 L707.8 479.9 L707.6 477.9 L707.4 475.9 L707.3 473.9 L707.1 471.9 L706.9 469.9 L706.7 467.9 L706.6 465.9 L706.4 463.9 L706.3 461.9 L706.1 459.9 L706.0 457.9 L705.9 455.9 L705.8 453.9 L705.6 451.9 L705.6 449.9 L705.5 447.9 L705.4 445.9 L705.3 443.9 L705.2 441.9 L705.1 439.9 L705.0 437.9 L704.9 435.9 L704.7 433.9 L704.6 431.9 L704.5 429.9 L704.3 427.9 L704.1 425.9 L703.9 423.9 L703.8 421.9 L703.6 419.9 L703.4 417.9 L703.2 415.9 L703.0 413.9 L702.8 411.9 L702.6 409.9 L702.3 407.9 L702.1 405.9 L701.9 403.9 L701.7 401.9 L701.5 399.9 L701.3 397.9 L701.1 395.9 L701.0 393.9 L700.8 391.9 L700.6 389.9 L700.5 387.9 L700.4 385.9 L700.2 383.9 L700.1 381.9 L700.0 379.9 L699.9 377.9 L699.8 375.9 L699.7 373.9 L699.7 371.9 L699.6 369.9 L699.6 367.9 L699.5 365.9 L699.5 363.9 L699.5 361.9 L699.5 359.9 L699.5 357.9 L699.5 355.9 L699.5 353.9 L699.5 351.9 L699.5 349.9 L699.5 347.9 L699.5 345.9 L699.5 343.9 L699.5 341.9 L699.5 339.9 L699.6 337.9 L699.6 335.9 L699.6 333.9 L699.7 331.9 L699.7 329.9 L699.8 327.9 L699.8 325.9 L699.9 323.9 L700.0 321.9 L700.0 319.9 L700.1 317.9 L700.1 315.9 L700.1 313.9 L700.2 311.9 L700.2 309.9 L700.2 307.9 L700.2 305.9 L700.2 303.9 L700.2 301.9 L700.2 299.9 L700.1 297.9 L700.1 295.9 L700.0 293.9 L700.0 291.9 L699.9 289.9 L699.9 287.9 L699.8 285.9 L699.7 283.9 L699.7 281.9 L699.6 279.9 L699.5 277.9 L699.4 275.9 L699.3 273.9 L699.3 271.9 L699.2 269.9 L699.1 267.9 L699.0 265.9 L698.9 263.9 L698.9 261.9 L698.8 259.9 L698.7 257.9 L698.6 255.8 L698.5 253.8 L698.4 251.8 Z" fill="#000080" stroke="#000" stroke-width="3.3" stroke-linejoin="round"/>
<path d="M823.8 565.5 L823.7 567.5 L823.7 569.5 L823.6 571.5 L823.5 573.5 L823.4 575.5 L823.3 577.5 L823.2 579.5 L823.1 581.5 L822.9 583.5 L822.8 585.5 L822.6 587.5 L822.4 589.5 L822.1 591.5 L821.9 593.5 L821.6 595.5 L821.4 597.5 L821.1 599.5 L820.9 601.5 L820.7 603.5 L820.5 605.5 L820.2 607.5 L820.0 609.5 L819.7 611.5 L819.5 613.5 L819.2 615.5 L818.9 617.5 L818.5 619.5 L818.2 621.5 L817.8 623.5 L817.4 625.5 L817.0 627.5 L816.4 629.5 L815.9 631.5 L815.1 633.5 L814.3 635.5 L813.2 637.5 L811.9 639.5 L810.2 641.5 L808.2 643.5 L805.8 645.5 L803.4 647.5 L800.8 649.5 L798.2 651.5 L795.6 653.5 L792.9 655.5 L790.3 657.5 L787.6 659.5 L785.1 661.5 L782.7 663.5 L780.5 665.5 L778.5 667.5 L776.8 669.5 L775.4 671.5 L774.4 673.5 L774.0 675.5 L774.2 677.5 L775.4 679.5 L777.5 681.5 L780.4 683.5 L783.8 685.5 L787.2 687.5 L790.2 689.5 L792.7 691.5 L794.7 693.5 L796.2 695.5 L797.2 697.5 L797.7 699.5 L798.0 701.5 L798.1 703.5 L798.1 705.5 L798.3 707.5 L798.8 709.5 L799.7 711.5 L800.9 713.5 L802.5 715.5 L804.5 717.5 L806.9 719.5 L809.4 721.5 L812.1 723.5 L814.8 725.5 L817.3 727.5 L819.5 729.5 L821.1 731.5 L822.4 733.5 L823.2 735.5 L823.8 737.5 L823.8 737.9 L824.0 737.9 L824.0 737.5 L824.6 735.5 L825.4 733.5 L826.7 731.5 L828.3 729.5 L830.5 727.5 L833.0 725.5 L835.7 723.5 L838.4 721.5 L840.9 719.5 L843.3 717.5 L845.3 715.5 L846.9 713.5 L848.1 711.5 L849.0 709.5 L849.5 707.5 L849.7 705.5 L849.7 703.5 L849.8 701.5 L850.1 699.5 L850.6 697.5 L851.6 695.5 L853.1 693.5 L855.1 691.5 L857.6 689.5 L860.6 687.5 L864.0 685.5 L867.4 683.5 L870.3 681.5 L872.4 679.5 L873.6 677.5 L873.8 675.5 L873.4 673.5 L872.4 671.5 L871.0 669.5 L869.3 667.5 L867.3 665.5 L865.1 663.5 L862.7 661.5 L860.2 659.5 L857.5 657.5 L854.9 655.5 L852.2 653.5 L849.6 651.5 L847.0 649.5 L844.4 647.5 L842.0 645.5 L839.6 643.5 L837.6 641.5 L835.9 639.5 L834.6 637.5 L833.5 635.5 L832.7 633.5 L831.9 631.5 L831.4 629.5 L830.8 627.5 L830.4 625.5 L830.0 623.5 L829.6 621.5 L829.3 619.5 L828.9 617.5 L828.6 615.5 L828.3 613.5 L828.1 611.5 L827.8 609.5 L827.6 607.5 L827.3 605.5 L827.1 603.5 L826.9 601.5 L826.7 599.5 L826.4 597.5 L826.2 595.5 L825.9 593.5 L825.7 591.5 L825.4 589.5 L825.2 587.5 L825.0 585.5 L824.9 583.5 L824.7 581.5 L824.6 579.5 L824.5 577.5 L824.4 575.5 L824.3 573.5 L824.2 571.5 L824.1 569.5 L824.1 567.5 L824.0 565.5 Z" fill="#800080" stroke="#000" stroke-width="3.3" stroke-linejoin="round"/>
<path d="M950.2 462.0 L949.9 464.0 L949.7 466.0 L949.4 468.0 L949.3 470.0 L949.1 472.0 L949.0 474.0 L949.0 476.0 L948.9 478.0 L948.9 480.0 L948.9 482.0 L948.9 484.0 L948.9 486.0 L948.9 488.0 L948.9 490.0 L948.9 492.0 L948.9 494.0 L948.9 496.0 L948.9 498.0 L948.9 500.0 L948.9 502.0 L948.9 504.0 L948.9 506.0 L948.9 508.0 L948.8 510.0 L948.8 512.0 L948.8 514.0 L948.8 516.0 L948.8 518.0 L948.7 520.0 L948.7 522.0 L948.6 524.0 L948.6 526.0 L948.5 528.0 L948.4 530.0 L948.2 532.0 L948.1 534.0 L947.9 536.0 L947.6 538.0 L947.2 540.0 L946.7 542.0 L946.1 544.0 L945.4 546.0 L944.6 548.0 L943.7 550.0 L942.8 552.0 L941.7 554.0 L940.7 556.0 L939.7 558.0 L938.6 560.0 L937.6 562.0 L936.6 564.0 L935.6 566.0 L934.6 568.0 L933.7 570.0 L932.9 572.0 L932.2 574.0 L931.6 576.0 L931.1 578.0 L930.8 580.0 L930.4 582.0 L930.2 584.0 L929.9 586.0 L929.6 588.0 L929.0 590.0 L928.1 592.0 L927.1 594.0 L925.9 596.0 L924.7 598.0 L923.5 600.0 L922.3 602.0 L921.3 604.0 L920.4 606.0 L919.6 608.0 L918.9 610.0 L918.4 612.0 L918.0 614.0 L917.7 616.0 L917.3 618.0 L916.7 620.0 L915.8 622.0 L914.5 624.0 L912.9 626.0 L911.1 628.0 L909.1 630.0 L907.1 632.0 L905.3 634.0 L903.7 636.0 L902.4 638.0 L901.4 640.0 L900.7 642.0 L900.3 644.0 L900.1 646.0 L900.2 648.0 L900.5 650.0 L901.2 652.0 L902.0 654.0 L903.0 656.0 L904.2 658.0 L905.6 660.0 L907.0 662.0 L908.3 664.0 L909.5 666.0 L910.6 668.0 L911.6 670.0 L912.4 672.0 L913.3 674.0 L914.2 676.0 L915.3 678.0 L916.7 680.0 L918.1 682.0 L919.8 684.0 L921.5 686.0 L923.2 688.0 L925.1 690.0 L926.9 692.0 L928.7 694.0 L930.5 696.0 L932.2 698.0 L933.8 700.0 L935.4 702.0 L936.8 704.0 L938.2 706.0 L939.5 708.0 L940.7 710.0 L941.8 712.0 L942.8 714.0 L943.8 716.0 L944.7 718.0 L945.5 720.0 L946.2 722.0 L946.9 724.0 L947.5 726.0 L948.0 728.0 L948.5 730.0 L948.9 732.0 L949.3 734.0 L949.5 736.0 L949.8 738.0 L950.0 740.0 L950.1 742.0 L950.2 744.0 L950.3 745.6 L950.5 745.6 L950.6 744.0 L950.7 742.0 L950.8 740.0 L951.0 738.0 L951.3 736.0 L951.5 734.0 L951.9 732.0 L952.3 730.0 L952.8 728.0 L953.3 726.0 L953.9 724.0 L954.6 722.0 L955.3 720.0 L956.1 718.0 L957.0 716.0 L958.0 714.0 L959.0 712.0 L960.1 710.0 L961.3 708.0 L962.6 706.0 L964.0 704.0 L965.4 702.0 L967.0 700.0 L968.6 698.0 L970.3 696.0 L972.1 694.0 L973.9 692.0 L975.7 690.0 L977.6 688.0 L979.3 686.0 L981.0 684.0 L982.7 682.0 L984.1 680.0 L985.5 678.0 L986.6 676.0 L987.5 674.0 L988.4 672.0 L989.2 670.0 L990.2 668.0 L991.3 666.0 L992.5 664.0 L993.8 662.0 L995.2 660.0 L996.6 658.0 L997.8 656.0 L998.8 654.0 L999.6 652.0 L1000.3 650.0 L1000.6 648.0 L1000.7 646.0 L1000.5 644.0 L1000.1 642.0 L999.4 640.0 L998.4 638.0 L997.1 636.0 L995.5 634.0 L993.7 632.0 L991.7 630.0 L989.7 628.0 L987.9 626.0 L986.3 624.0 L985.0 622.0 L984.1 620.0 L983.5 618.0 L983.1 616.0 L982.8 614.0 L982.4 612.0 L981.9 610.0 L981.2 608.0 L980.4 606.0 L979.5 604.0 L978.5 602.0 L977.3 600.0 L976.1 598.0 L974.9 596.0 L973.7 594.0 L972.7 592.0 L971.8 590.0 L971.2 588.0 L970.9 586.0 L970.6 584.0 L970.4 582.0 L970.0 580.0 L969.7 578.0 L969.2 576.0 L968.6 574.0 L967.9 572.0 L967.1 570.0 L966.2 568.0 L965.2 566.0 L964.2 564.0 L963.2 562.0 L962.2 560.0 L961.1 558.0 L960.1 556.0 L959.1 554.0 L958.0 552.0 L957.1 550.0 L956.2 548.0 L955.4 546.0 L954.7 544.0 L954.1 542.0 L953.6 540.0 L953.2 538.0 L952.9 536.0 L952.7 534.0 L952.6 532.0 L952.4 530.0 L952.3 528.0 L952.2 526.0 L952.2 524.0 L952.1 522.0 L952.1 520.0 L952.0 518.0 L952.0 516.0 L952.0 514.0 L952.0 512.0 L952.0 510.0 L951.9 508.0 L951.9 506.0 L951.9 504.0 L951.9 502.0 L951.9 500.0 L951.9 498.0 L951.9 496.0 L951.9 494.0 L951.9 492.0 L951.9 490.0 L951.9 488.0 L951.9 486.0 L951.9 484.0 L951.9 482.0 L951.9 480.0 L951.9 478.0 L951.8 476.0 L951.8 474.0 L951.7 472.0 L951.5 470.0 L951.4 468.0 L951.1 466.0 L950.9 464.0 L950.5 462.0 Z" fill="#800000" stroke="#000" stroke-width="3.3" stroke-linejoin="round"/>
<path d="M1076.6 230.5 L1076.6 232.5 L1076.6 234.5 L1076.6 236.5 L1076.6 238.5 L1076.6 240.5 L1076.6 242.5 L1076.6 244.5 L1076.6 246.5 L1076.6 248.5 L1076.6 250.5 L1076.6 252.5 L1076.5 254.5 L1076.5 256.5 L1076.5 258.5 L1076.5 260.5 L1076.5 262.5 L1076.5 264.5 L1076.5 266.5 L1076.5 268.5 L1076.4 270.5 L1076.4 272.5 L1076.4 274.5 L1076.4 276.5 L1076.4 278.5 L1076.4 280.5 L1076.4 282.5 L1076.3 284.5 L1076.3 286.5 L1076.3 288.5 L1076.3 290.5 L1076.3 292.5 L1076.3 294.5 L1076.3 296.5 L1076.2 298.5 L1076.2 300.5 L1076.2 302.5 L1076.2 304.5 L1076.2 306.5 L1076.2 308.5 L1076.2 310.5 L1076.1 312.5 L1076.1 314.5 L1076.1 316.5 L1076.1 318.5 L1076.1 320.5 L1076.1 322.5 L1076.0 324.5 L1076.0 326.5 L1076.0 328.5 L1076.0 330.5 L1076.0 332.5 L1076.0 334.5 L1075.9 336.5 L1075.9 338.5 L1075.9 340.5 L1075.9 342.5 L1075.8 344.5 L1075.8 346.5 L1075.8 348.5 L1075.8 350.5 L1075.7 352.5 L1075.7 354.5 L1075.7 356.5 L1075.6 358.5 L1075.6 360.5 L1075.6 362.5 L1075.5 364.5 L1075.5 366.5 L1075.4 368.5 L1075.4 370.5 L1075.4 372.5 L1075.3 374.5 L1075.3 376.5 L1075.2 378.5 L1075.2 380.5 L1075.1 382.5 L1075.1 384.5 L1075.0 386.5 L1075.0 388.5 L1075.0 390.5 L1074.9 392.5 L1074.9 394.5 L1074.8 396.5 L1074.8 398.5 L1074.8 400.5 L1074.7 402.5 L1074.7 404.5 L1074.6 406.5 L1074.6 408.5 L1074.6 410.5 L1074.5 412.5 L1074.5 414.5 L1074.5 416.5 L1074.4 418.5 L1074.4 420.5 L1074.4 422.5 L1074.3 424.5 L1074.3 426.5 L1074.3 428.5 L1074.2 430.5 L1074.2 432.5 L1074.2 434.5 L1074.1 436.5 L1074.1 438.5 L1074.0 440.5 L1074.0 442.5 L1074.0 444.5 L1073.9 446.5 L1073.9 448.5 L1073.8 450.5 L1073.8 452.5 L1073.7 454.5 L1073.7 456.5 L1073.6 458.5 L1073.5 460.5 L1073.4 462.5 L1073.3 464.5 L1073.2 466.5 L1073.1 468.5 L1072.9 470.5 L1072.8 472.5 L1072.6 474.5 L1072.5 476.5 L1072.3 478.5 L1072.1 480.5 L1072.0 482.5 L1071.8 484.5 L1071.6 486.5 L1071.4 488.5 L1071.2 490.5 L1071.0 492.5 L1070.8 494.5 L1070.5 496.5 L1070.3 498.5 L1070.1 500.5 L1069.9 502.5 L1069.7 504.5 L1069.5 506.5 L1069.3 508.5 L1069.1 510.5 L1068.9 512.5 L1068.7 514.5 L1068.4 516.5 L1068.1 518.5 L1067.8 520.5 L1067.4 522.5 L1067.1 524.5 L1066.6 526.5 L1066.2 528.5 L1065.8 530.5 L1065.4 532.5 L1064.9 534.5 L1064.6 536.5 L1064.2 538.5 L1063.8 540.5 L1063.5 542.5 L1063.1 544.5 L1062.8 546.5 L1062.5 548.5 L1062.2 550.5 L1061.9 552.5 L1061.7 554.5 L1061.4 556.5 L1061.3 558.5 L1061.1 560.5 L1061.0 562.5 L1060.8 564.5 L1060.7 566.5 L1060.6 568.5 L1060.5 570.5 L1060.4 572.5 L1060.2 574.5 L1060.0 576.5 L1059.8 578.5 L1059.4 580.5 L1058.9 582.5 L1058.4 584.5 L1057.7 586.5 L1057.0 588.5 L1056.1 590.5 L1055.1 592.5 L1054.0 594.5 L1052.9 596.5 L1051.7 598.5 L1050.6 600.5 L1049.4 602.5 L1048.1 604.5 L1047.0 606.5 L1045.8 608.5 L1044.7 610.5 L1043.6 612.5 L1042.6 614.5 L1041.6 616.5 L1040.7 618.5 L1039.8 620.5 L1039.0 622.5 L1038.2 624.5 L1037.5 626.5 L1036.9 628.5 L1036.3 630.5 L1035.7 632.5 L1035.2 634.5 L1034.7 636.5 L1034.3 638.5 L1033.8 640.5 L1033.4 642.5 L1033.1 644.5 L1032.7 646.5 L1032.4 648.5 L1032.1 650.5 L1031.8 652.5 L1031.6 654.5 L1031.3 656.5 L1031.1 658.5 L1031.0 660.5 L1030.8 662.5 L1030.6 664.5 L1030.4 666.5 L1030.2 668.5 L1030.0 670.5 L1029.8 672.5 L1029.6 674.5 L1029.4 676.5 L1029.2 678.5 L1029.0 680.5 L1028.8 682.5 L1028.6 684.5 L1028.4 686.5 L1028.2 688.5 L1028.0 690.5 L1027.8 692.5 L1027.6 694.5 L1027.4 696.5 L1027.2 698.5 L1027.0 700.5 L1026.8 702.5 L1026.6 704.5 L1026.5 706.5 L1026.4 708.5 L1026.3 710.5 L1026.2 712.5 L1026.1 714.5 L1026.1 716.5 L1026.1 718.5 L1026.2 720.5 L1026.5 722.5 L1026.8 724.5 L1027.4 726.5 L1028.1 728.5 L1029.0 730.5 L1030.1 732.5 L1031.4 734.5 L1032.9 736.5 L1034.4 738.5 L1035.9 740.5 L1037.5 742.5 L1039.2 744.5 L1040.9 746.5 L1042.7 748.5 L1044.6 750.5 L1046.5 752.5 L1048.5 754.5 L1050.5 756.5 L1052.5 758.5 L1054.5 760.5 L1056.5 762.5 L1058.4 764.5 L1060.3 766.5 L1062.1 768.5 L1063.8 770.5 L1065.3 772.5 L1066.7 774.5 L1068.0 776.5 L1069.1 778.5 L1070.0 780.5 L1070.9 782.5 L1071.8 784.5 L1073.0 786.5 L1073.2 786.8 L1080.4 786.8 L1080.6 786.5 L1081.8 784.5 L1082.7 782.5 L1083.6 780.5 L1084.5 778.5 L1085.6 776.5 L1086.9 774.5 L1088.3 772.5 L1089.8 770.5 L1091.5 768.5 L1093.3 766.5 L1095.2 764.5 L1097.1 762.5 L1099.1 760.5 L1101.1 758.5 L1103.1 756.5 L1105.1 754.5 L1107.1 752.5 L1109.0 750.5 L1110.9 748.5 L1112.7 746.5 L1114.4 744.5 L1116.1 742.5 L1117.7 740.5 L1119.2 738.5 L1120.7 736.5 L1122.2 734.5 L1123.5 732.5 L1124.6 730.5 L1125.5 728.5 L1126.2 726.5 L1126.8 724.5 L1127.1 722.5 L1127.4 720.5 L1127.5 718.5 L1127.5 716.5 L1127.5 714.5 L1127.4 712.5 L1127.3 710.5 L1127.2 708.5 L1127.1 706.5 L1127.0 704.5 L1126.8 702.5 L1126.6 700.5 L1126.4 698.5 L1126.2 696.5 L1126.0 694.5 L1125.8 692.5 L1125.6 690.5 L1125.4 688.5 L1125.2 686.5 L1125.0 684.5 L1124.8 682.5 L1124.6 680.5 L1124.4 678.5 L1124.2 676.5 L1124.0 674.5 L1123.8 672.5 L1123.6 670.5 L1123.4 668.5 L1123.2 666.5 L1123.0 664.5 L1122.8 662.5 L1122.6 660.5 L1122.5 658.5 L1122.3 656.5 L1122.0 654.5 L1121.8 652.5 L1121.5 650.5 L1121.2 648.5 L1120.9 646.5 L1120.5 644.5 L1120.2 642.5 L1119.8 640.5 L1119.3 638.5 L1118.9 636.5 L1118.4 634.5 L1117.9 632.5 L1117.3 630.5 L1116.7 628.5 L1116.1 626.5 L1115.4 624.5 L1114.6 622.5 L1113.8 620.5 L1112.9 618.5 L1112.0 616.5 L1111.0 614.5 L1110.0 612.5 L1108.9 610.5 L1107.8 608.5 L1106.6 606.5 L1105.5 604.5 L1104.2 602.5 L1103.0 600.5 L1101.9 598.5 L1100.7 596.5 L1099.6 594.5 L1098.5 592.5 L1097.5 590.5 L1096.6 588.5 L1095.9 586.5 L1095.2 584.5 L1094.7 582.5 L1094.2 580.5 L1093.8 578.5 L1093.6 576.5 L1093.4 574.5 L1093.2 572.5 L1093.1 570.5 L1093.0 568.5 L1092.9 566.5 L1092.8 564.5 L1092.6 562.5 L1092.5 560.5 L1092.3 558.5 L1092.2 556.5 L1091.9 554.5 L1091.7 552.5 L1091.4 550.5 L1091.1 548.5 L1090.8 546.5 L1090.5 544.5 L1090.1 542.5 L1089.8 540.5 L1089.4 538.5 L1089.0 536.5 L1088.7 534.5 L1088.2 532.5 L1087.8 530.5 L1087.4 528.5 L1087.0 526.5 L1086.5 524.5 L1086.2 522.5 L1085.8 520.5 L1085.5 518.5 L1085.2 516.5 L1084.9 514.5 L1084.7 512.5 L1084.5 510.5 L1084.3 508.5 L1084.1 506.5 L1083.9 504.5 L1083.7 502.5 L1083.5 500.5 L1083.3 498.5 L1083.1 496.5 L1082.8 494.5 L1082.6 492.5 L1082.4 490.5 L1082.2 488.5 L1082.0 486.5 L1081.8 484.5 L1081.6 482.5 L1081.5 480.5 L1081.3 478.5 L1081.1 476.5 L1081.0 474.5 L1080.8 472.5 L1080.7 470.5 L1080.5 468.5 L1080.4 466.5 L1080.3 464.5 L1080.2 462.5 L1080.1 460.5 L1080.0 458.5 L1079.9 456.5 L1079.9 454.5 L1079.8 452.5 L1079.8 450.5 L1079.7 448.5 L1079.7 446.5 L1079.6 444.5 L1079.6 442.5 L1079.6 440.5 L1079.5 438.5 L1079.5 436.5 L1079.4 434.5 L1079.4 432.5 L1079.4 430.5 L1079.3 428.5 L1079.3 426.5 L1079.3 424.5 L1079.2 422.5 L1079.2 420.5 L1079.2 418.5 L1079.1 416.5 L1079.1 414.5 L1079.1 412.5 L1079.0 410.5 L1079.0 408.5 L1079.0 406.5 L1078.9 404.5 L1078.9 402.5 L1078.8 400.5 L1078.8 398.5 L1078.8 396.5 L1078.7 394.5 L1078.7 392.5 L1078.6 390.5 L1078.6 388.5 L1078.6 386.5 L1078.5 384.5 L1078.5 382.5 L1078.4 380.5 L1078.4 378.5 L1078.3 376.5 L1078.3 374.5 L1078.2 372.5 L1078.2 370.5 L1078.2 368.5 L1078.1 366.5 L1078.1 364.5 L1078.0 362.5 L1078.0 360.5 L1078.0 358.5 L1077.9 356.5 L1077.9 354.5 L1077.9 352.5 L1077.8 350.5 L1077.8 348.5 L1077.8 346.5 L1077.8 344.5 L1077.7 342.5 L1077.7 340.5 L1077.7 338.5 L1077.7 336.5 L1077.6 334.5 L1077.6 332.5 L1077.6 330.5 L1077.6 328.5 L1077.6 326.5 L1077.6 324.5 L1077.5 322.5 L1077.5 320.5 L1077.5 318.5 L1077.5 316.5 L1077.5 314.5 L1077.5 312.5 L1077.4 310.5 L1077.4 308.5 L1077.4 306.5 L1077.4 304.5 L1077.4 302.5 L1077.4 300.5 L1077.4 298.5 L1077.3 296.5 L1077.3 294.5 L1077.3 292.5 L1077.3 290.5 L1077.3 288.5 L1077.3 286.5 L1077.3 284.5 L1077.2 282.5 L1077.2 280.5 L1077.2 278.5 L1077.2 276.5 L1077.2 274.5 L1077.2 272.5 L1077.2 270.5 L1077.1 268.5 L1077.1 266.5 L1077.1 264.5 L1077.1 262.5 L1077.1 260.5 L1077.1 258.5 L1077.1 256.5 L1077.1 254.5 L1077.0 252.5 L1077.0 250.5 L1077.0 248.5 L1077.0 246.5 L1077.0 244.5 L1077.0 242.5 L1077.0 240.5 L1077.0 238.5 L1077.0 236.5 L1077.0 234.5 L1077.0 232.5 L1077.0 230.5 Z" fill="#008080" stroke="#000" stroke-width="3.3" stroke-linejoin="round"/>
<path d="M1202.5 184.3 L1202.5 186.3 L1202.5 188.3 L1202.5 190.3 L1202.5 192.3 L1202.5 194.3 L1202.5 196.3 L1202.5 198.3 L1202.5 200.3 L1202.5 202.3 L1202.5 204.3 L1202.5 206.3 L1202.5 208.3 L1202.4 210.3 L1202.4 212.3 L1202.4 214.3 L1202.4 216.3 L1202.4 218.3 L1202.4 220.3 L1202.4 222.3 L1202.4 224.3 L1202.4 226.3 L1202.4 228.3 L1202.4 230.3 L1202.4 232.3 L1202.4 234.3 L1202.3 236.3 L1202.3 238.3 L1202.3 240.3 L1202.3 242.3 L1202.3 244.3 L1202.3 246.3 L1202.3 248.3 L1202.3 250.3 L1202.3 252.3 L1202.3 254.3 L1202.3 256.4 L1202.3 258.4 L1202.3 260.4 L1202.3 262.4 L1202.3 264.4 L1202.3 266.4 L1202.2 268.4 L1202.2 270.4 L1202.2 272.4 L1202.2 274.4 L1202.2 276.4 L1202.2 278.4 L1202.2 280.4 L1202.2 282.4 L1202.2 284.4 L1202.2 286.4 L1202.2 288.4 L1202.2 290.4 L1202.2 292.4 L1202.1 294.4 L1202.1 296.4 L1202.1 298.4 L1202.1 300.4 L1202.1 302.4 L1202.1 304.4 L1202.1 306.4 L1202.1 308.4 L1202.1 310.4 L1202.0 312.4 L1202.0 314.4 L1202.0 316.4 L1202.0 318.4 L1202.0 320.4 L1201.9 322.4 L1201.9 324.4 L1201.9 326.4 L1201.9 328.4 L1201.9 330.4 L1201.8 332.4 L1201.8 334.4 L1201.8 336.4 L1201.8 338.4 L1201.7 340.4 L1201.7 342.4 L1201.7 344.4 L1201.6 346.4 L1201.6 348.4 L1201.6 350.4 L1201.6 352.4 L1201.5 354.4 L1201.5 356.4 L1201.5 358.4 L1201.5 360.4 L1201.4 362.4 L1201.4 364.4 L1201.4 366.4 L1201.3 368.4 L1201.3 370.4 L1201.3 372.4 L1201.3 374.4 L1201.2 376.4 L1201.2 378.4 L1201.2 380.4 L1201.2 382.4 L1201.1 384.4 L1201.1 386.4 L1201.1 388.4 L1201.0 390.4 L1201.0 392.4 L1201.0 394.4 L1201.0 396.4 L1200.9 398.4 L1200.9 400.4 L1200.9 402.4 L1200.8 404.4 L1200.8 406.4 L1200.8 408.4 L1200.8 410.4 L1200.7 412.4 L1200.7 414.4 L1200.7 416.4 L1200.6 418.4 L1200.6 420.4 L1200.6 422.4 L1200.5 424.4 L1200.5 426.4 L1200.5 428.4 L1200.4 430.4 L1200.4 432.4 L1200.4 434.4 L1200.4 436.4 L1200.3 438.4 L1200.3 440.4 L1200.3 442.4 L1200.3 444.4 L1200.2 446.4 L1200.2 448.4 L1200.2 450.4 L1200.2 452.4 L1200.2 454.4 L1200.1 456.4 L1200.1 458.4 L1200.1 460.4 L1200.1 462.4 L1200.1 464.4 L1200.0 466.4 L1200.0 468.4 L1200.0 470.4 L1199.9 472.4 L1199.9 474.4 L1199.9 476.4 L1199.8 478.4 L1199.8 480.4 L1199.8 482.4 L1199.7 484.4 L1199.7 486.4 L1199.6 488.4 L1199.6 490.4 L1199.5 492.4 L1199.4 494.4 L1199.3 496.4 L1199.2 498.4 L1199.0 500.4 L1198.7 502.4 L1198.3 504.4 L1198.0 506.4 L1197.6 508.4 L1197.1 510.4 L1196.7 512.4 L1196.2 514.4 L1195.7 516.4 L1195.2 518.4 L1194.6 520.4 L1194.1 522.4 L1193.6 524.4 L1193.2 526.4 L1192.8 528.4 L1192.4 530.4 L1192.1 532.4 L1191.8 534.4 L1191.5 536.4 L1191.3 538.4 L1191.1 540.4 L1190.9 542.4 L1190.7 544.4 L1190.6 546.4 L1190.5 548.4 L1190.4 550.4 L1190.4 552.4 L1190.3 554.4 L1190.3 556.4 L1190.2 558.4 L1190.1 560.4 L1190.1 562.4 L1190.0 564.4 L1189.8 566.4 L1189.7 568.4 L1189.4 570.4 L1189.2 572.4 L1188.8 574.4 L1188.4 576.4 L1187.9 578.4 L1187.3 580.4 L1186.6 582.4 L1185.8 584.4 L1185.0 586.4 L1184.2 588.4 L1183.4 590.4 L1182.6 592.4 L1181.8 594.4 L1181.0 596.4 L1180.2 598.4 L1179.5 600.4 L1178.7 602.4 L1178.0 604.4 L1177.2 606.4 L1176.4 608.4 L1175.6 610.4 L1174.8 612.4 L1174.0 614.4 L1173.2 616.4 L1172.5 618.4 L1171.7 620.4 L1171.0 622.4 L1170.3 624.4 L1169.6 626.4 L1168.9 628.4 L1168.2 630.4 L1167.6 632.4 L1167.0 634.4 L1166.4 636.4 L1165.8 638.4 L1165.2 640.4 L1164.6 642.4 L1164.0 644.4 L1163.4 646.4 L1162.8 648.4 L1162.1 650.4 L1161.4 652.4 L1160.7 654.4 L1160.0 656.4 L1159.2 658.4 L1158.5 660.4 L1157.9 662.4 L1157.2 664.4 L1156.6 666.4 L1156.0 668.4 L1155.4 670.4 L1154.8 672.4 L1154.3 674.4 L1153.9 676.4 L1153.5 678.4 L1153.1 680.4 L1152.8 682.4 L1152.6 684.4 L1152.5 686.4 L1152.5 688.4 L1152.5 690.4 L1152.5 692.4 L1152.5 694.4 L1152.6 696.4 L1152.7 698.4 L1152.9 700.4 L1153.1 702.4 L1153.4 704.4 L1153.7 706.4 L1153.9 708.4 L1154.3 710.4 L1154.6 712.4 L1155.0 714.4 L1155.5 716.4 L1156.0 718.4 L1156.5 720.4 L1157.2 722.4 L1157.9 724.4 L1158.6 726.4 L1159.5 728.4 L1160.5 730.4 L1161.6 732.4 L1162.8 734.4 L1163.9 736.4 L1165.2 738.4 L1166.5 740.4 L1167.9 742.4 L1169.4 744.4 L1170.9 746.4 L1172.5 748.4 L1174.0 750.4 L1175.6 752.4 L1177.2 754.4 L1178.8 756.4 L1180.5 758.4 L1182.1 760.4 L1183.8 762.4 L1185.4 764.4 L1186.9 766.4 L1188.4 768.4 L1189.8 770.4 L1191.2 772.4 L1192.5 774.4 L1193.6 776.4 L1194.7 778.4 L1195.8 780.4 L1196.8 782.4 L1197.9 784.4 L1199.0 786.4 L1199.2 786.8 L1206.2 786.8 L1206.4 786.4 L1207.5 784.4 L1208.6 782.4 L1209.6 780.4 L1210.7 778.4 L1211.8 776.4 L1212.9 774.4 L1214.2 772.4 L1215.6 770.4 L1217.0 768.4 L1218.5 766.4 L1220.0 764.4 L1221.6 762.4 L1223.3 760.4 L1224.9 758.4 L1226.6 756.4 L1228.2 754.4 L1229.8 752.4 L1231.4 750.4 L1232.9 748.4 L1234.5 746.4 L1236.0 744.4 L1237.5 742.4 L1238.9 740.4 L1240.2 738.4 L1241.5 736.4 L1242.6 734.4 L1243.8 732.4 L1244.9 730.4 L1245.9 728.4 L1246.8 726.4 L1247.5 724.4 L1248.2 722.4 L1248.9 720.4 L1249.4 718.4 L1249.9 716.4 L1250.4 714.4 L1250.8 712.4 L1251.1 710.4 L1251.5 708.4 L1251.7 706.4 L1252.0 704.4 L1252.3 702.4 L1252.5 700.4 L1252.7 698.4 L1252.8 696.4 L1252.9 694.4 L1252.9 692.4 L1252.9 690.4 L1252.9 688.4 L1252.9 686.4 L1252.8 684.4 L1252.6 682.4 L1252.3 680.4 L1251.9 678.4 L1251.5 676.4 L1251.1 674.4 L1250.6 672.4 L1250.0 670.4 L1249.4 668.4 L1248.8 666.4 L1248.2 664.4 L1247.5 662.4 L1246.9 660.4 L1246.2 658.4 L1245.4 656.4 L1244.7 654.4 L1244.0 652.4 L1243.3 650.4 L1242.6 648.4 L1242.0 646.4 L1241.4 644.4 L1240.8 642.4 L1240.2 640.4 L1239.6 638.4 L1239.0 636.4 L1238.4 634.4 L1237.8 632.4 L1237.2 630.4 L1236.5 628.4 L1235.8 626.4 L1235.1 624.4 L1234.4 622.4 L1233.7 620.4 L1232.9 618.4 L1232.2 616.4 L1231.4 614.4 L1230.6 612.4 L1229.8 610.4 L1229.0 608.4 L1228.2 606.4 L1227.4 604.4 L1226.7 602.4 L1225.9 600.4 L1225.2 598.4 L1224.4 596.4 L1223.6 594.4 L1222.8 592.4 L1222.0 590.4 L1221.2 588.4 L1220.4 586.4 L1219.6 584.4 L1218.8 582.4 L1218.1 580.4 L1217.5 578.4 L1217.0 576.4 L1216.6 574.4 L1216.2 572.4 L1216.0 570.4 L1215.7 568.4 L1215.6 566.4 L1215.4 564.4 L1215.3 562.4 L1215.3 560.4 L1215.2 558.4 L1215.1 556.4 L1215.1 554.4 L1215.0 552.4 L1215.0 550.4 L1214.9 548.4 L1214.8 546.4 L1214.7 544.4 L1214.5 542.4 L1214.3 540.4 L1214.1 538.4 L1213.9 536.4 L1213.6 534.4 L1213.3 532.4 L1213.0 530.4 L1212.6 528.4 L1212.2 526.4 L1211.8 524.4 L1211.3 522.4 L1210.8 520.4 L1210.2 518.4 L1209.7 516.4 L1209.2 514.4 L1208.7 512.4 L1208.3 510.4 L1207.8 508.4 L1207.4 506.4 L1207.1 504.4 L1206.7 502.4 L1206.4 500.4 L1206.2 498.4 L1206.1 496.4 L1206.0 494.4 L1205.9 492.4 L1205.8 490.4 L1205.8 488.4 L1205.7 486.4 L1205.7 484.4 L1205.6 482.4 L1205.6 480.4 L1205.6 478.4 L1205.5 476.4 L1205.5 474.4 L1205.5 472.4 L1205.4 470.4 L1205.4 468.4 L1205.4 466.4 L1205.3 464.4 L1205.3 462.4 L1205.3 460.4 L1205.3 458.4 L1205.3 456.4 L1205.2 454.4 L1205.2 452.4 L1205.2 450.4 L1205.2 448.4 L1205.2 446.4 L1205.1 444.4 L1205.1 442.4 L1205.1 440.4 L1205.1 438.4 L1205.0 436.4 L1205.0 434.4 L1205.0 432.4 L1205.0 430.4 L1204.9 428.4 L1204.9 426.4 L1204.9 424.4 L1204.8 422.4 L1204.8 420.4 L1204.8 418.4 L1204.7 416.4 L1204.7 414.4 L1204.7 412.4 L1204.6 410.4 L1204.6 408.4 L1204.6 406.4 L1204.6 404.4 L1204.5 402.4 L1204.5 400.4 L1204.5 398.4 L1204.4 396.4 L1204.4 394.4 L1204.4 392.4 L1204.4 390.4 L1204.3 388.4 L1204.3 386.4 L1204.3 384.4 L1204.2 382.4 L1204.2 380.4 L1204.2 378.4 L1204.2 376.4 L1204.1 374.4 L1204.1 372.4 L1204.1 370.4 L1204.1 368.4 L1204.0 366.4 L1204.0 364.4 L1204.0 362.4 L1203.9 360.4 L1203.9 358.4 L1203.9 356.4 L1203.9 354.4 L1203.8 352.4 L1203.8 350.4 L1203.8 348.4 L1203.8 346.4 L1203.7 344.4 L1203.7 342.4 L1203.7 340.4 L1203.6 338.4 L1203.6 336.4 L1203.6 334.4 L1203.6 332.4 L1203.5 330.4 L1203.5 328.4 L1203.5 326.4 L1203.5 324.4 L1203.5 322.4 L1203.4 320.4 L1203.4 318.4 L1203.4 316.4 L1203.4 314.4 L1203.4 312.4 L1203.3 310.4 L1203.3 308.4 L1203.3 306.4 L1203.3 304.4 L1203.3 302.4 L1203.3 300.4 L1203.3 298.4 L1203.3 296.4 L1203.3 294.4 L1203.2 292.4 L1203.2 290.4 L1203.2 288.4 L1203.2 286.4 L1203.2 284.4 L1203.2 282.4 L1203.2 280.4 L1203.2 278.4 L1203.2 276.4 L1203.2 274.4 L1203.2 272.4 L1203.2 270.4 L1203.2 268.4 L1203.1 266.4 L1203.1 264.4 L1203.1 262.4 L1203.1 260.4 L1203.1 258.4 L1203.1 256.4 L1203.1 254.3 L1203.1 252.3 L1203.1 250.3 L1203.1 248.3 L1203.1 246.3 L1203.1 244.3 L1203.1 242.3 L1203.1 240.3 L1203.1 238.3 L1203.1 236.3 L1203.0 234.3 L1203.0 232.3 L1203.0 230.3 L1203.0 228.3 L1203.0 226.3 L1203.0 224.3 L1203.0 222.3 L1203.0 220.3 L1203.0 218.3 L1203.0 216.3 L1203.0 214.3 L1203.0 212.3 L1203.0 210.3 L1202.9 208.3 L1202.9 206.3 L1202.9 204.3 L1202.9 202.3 L1202.9 200.3 L1202.9 198.3 L1202.9 196.3 L1202.9 194.3 L1202.9 192.3 L1202.9 190.3 L1202.9 188.3 L1202.9 186.3 L1202.9 184.3 Z" fill="#FF8000" stroke="#000" stroke-width="3.3" stroke-linejoin="round"/>
<g stroke="#000" stroke-width="3.4" fill="none">
<path d="M129.4 1.0 V920.9"/>
<path d="M110.7 919.2 H1265.8"/>
<path d="M110.7 752.8 H129.4"/>
<path d="M110.7 586.5 H129.4"/>
<path d="M110.7 420.1 H129.4"/>
<path d="M110.7 253.8 H129.4"/>
<path d="M110.7 87.4 H129.4"/>
<path d="M120.7 836.0 H129.4"/>
<path d="M120.7 669.7 H129.4"/>
<path d="M120.7 503.3 H129.4"/>
<path d="M120.7 336.9 H129.4"/>
<path d="M120.7 170.6 H129.4"/>
<path d="M120.7 2.8 H129.4"/>
<path d="M191.3 919.2 V936.2"/>
<path d="M317.6 919.2 V936.2"/>
<path d="M443.8 919.2 V936.2"/>
<path d="M570.1 919.2 V936.2"/>
<path d="M696.3 919.2 V936.2"/>
<path d="M822.6 919.2 V936.2"/>
<path d="M948.9 919.2 V936.2"/>
<path d="M1075.1 919.2 V936.2"/>
<path d="M1201.4 919.2 V936.2"/>
</g>
<g font-family="'Liberation Serif', 'Times New Roman', serif" font-size="43" fill="#000">
<text transform="translate(98.2 931.4) scale(1 1.03)" text-anchor="end">1</text>
<text transform="translate(81.0 931.4) scale(1.19 1.03)" text-anchor="end">−</text>
<text transform="translate(98.2 765.0) scale(1 1.03)" text-anchor="end">0</text>
<text transform="translate(98.2 598.7) scale(1 1.03)" text-anchor="end">1</text>
<text transform="translate(98.2 432.3) scale(1 1.03)" text-anchor="end">2</text>
<text transform="translate(98.2 266.0) scale(1 1.03)" text-anchor="end">3</text>
<text transform="translate(98.2 99.6) scale(1 1.03)" text-anchor="end">4</text>
<text transform="translate(33.5 460.5) rotate(-90) scale(1 1.03)" text-anchor="middle">Scour deptn ratio (SDR) (ds/y)</text>
<text transform="translate(213.4 989) rotate(-30) scale(1 1.03)" text-anchor="end">Observed</text>
<text transform="translate(339.7 989) rotate(-30) scale(1 1.03)" text-anchor="end">Neill (1964)</text>
<text transform="translate(465.9 989) rotate(-30) scale(1 1.03)" text-anchor="end">CSU (1975)</text>
<text transform="translate(592.2 989) rotate(-30) scale(1 1.03)" text-anchor="end">Melville and Chiew (1999)</text>
<text transform="translate(718.4 989) rotate(-30) scale(1 1.03)" text-anchor="end">Oliveto and Hager (2002)</text>
<text transform="translate(844.7 989) rotate(-30) scale(1 1.03)" text-anchor="end">Kim et al. (2015)</text>
<text transform="translate(971.0 989) rotate(-30) scale(1 1.03)" text-anchor="end">Pandey et al. (2018)</text>
<text transform="translate(1097.2 989) rotate(-30) scale(1 1.03)" text-anchor="end">ANFIS (Present model)</text>
<text transform="translate(1223.5 989) rotate(-30) scale(1 1.03)" text-anchor="end">GEP (Present model)</text>
</g>
</svg>
</body></html>
